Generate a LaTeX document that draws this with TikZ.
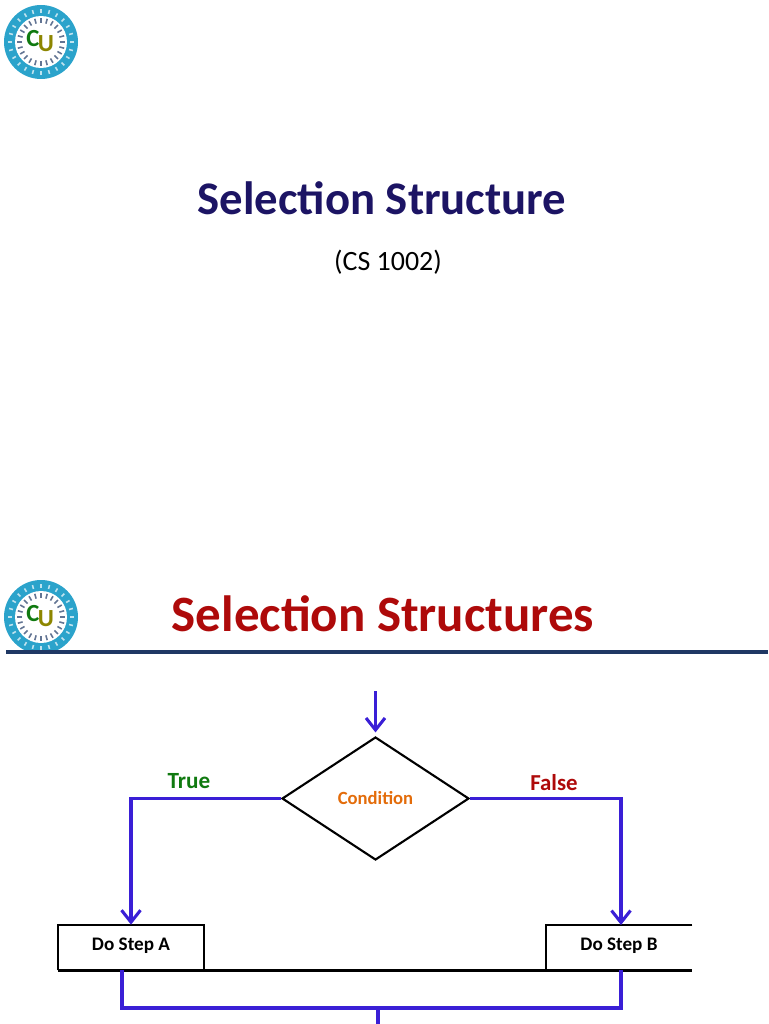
\documentclass[tikz,border=0pt]{standalone}
\usepackage{fontspec}
\setmainfont{Carlito}
\usepackage{xcolor}
\usetikzlibrary{shapes.geometric, arrows.meta, positioning}
\definecolor{CS_Navy}{HTML}{1C1464}
\definecolor{CS_Red}{HTML}{AE0A0A}
\definecolor{CS_Rule}{HTML}{1F3864}
\definecolor{CS_Blue}{HTML}{3A1FD6}
\definecolor{CS_Green}{HTML}{107A10}
\definecolor{CS_Orange}{HTML}{E36C0A}
\definecolor{CS_Seal}{HTML}{2BA3CB}
\tikzset{
    flowline/.style={CS_Blue, line width=1.75pt},
    flowarrow/.style={flowline, -{Straight Barb[length=2.4mm, width=3.8mm, line width=1.75pt]}},
    stepbox/.style={minimum width=2.92cm, minimum height=0.9cm, inner sep=0pt, text depth=4pt, font=\fontsize{10.9}{12}\selectfont\bfseries},
    decision/.style={diamond, draw, line width=1.2pt, aspect=1.52, minimum width=3.74cm, minimum height=2.46cm, inner sep=0pt, text=CS_Orange, font=\fontsize{10.6}{12}\selectfont\bfseries},
    seal/.pic={
        \fill[CS_Seal] (0,0) circle (37);
        \fill[white] (0,0) circle (26);
        \foreach \ang in {0,15,...,345} {
            \draw[white!70!CS_Seal, line width=0.9pt] (\ang:29) -- (\ang:33);
            \draw[CS_Rule!70, line width=0.9pt] (\ang:19) -- (\ang:24);
        }
        \node[text=CS_Green, font=\fontsize{14}{14}\selectfont\bfseries] at (-8,-3) {C};
        \node[text=olive, font=\fontsize{14}{14}\selectfont\bfseries] at (5,2) {U};
    }
}

\begin{document}
\begin{tikzpicture}[x=0.02cm, y=-0.02cm]
    \useasboundingbox (0,0) rectangle (768,1024);

    % First slide
    \pic at (41,42) {seal};
    \node[text=CS_Navy, font=\fontsize{26.6}{30}\selectfont\bfseries] (title) at (382,198) {Selection Structure};
    \node[font=\fontsize{15.9}{18}\selectfont] (course) at (388,262) {(CS 1002)};

    % Second slide
    \pic at (41,617) {seal};
    \node[text=CS_Red, font=\fontsize{29}{34}\selectfont\bfseries] (heading) at (383,614) {Selection Structures};
    \draw[CS_Rule, line width=2.3pt] (6,652) -- (768,652);

    % Flow chart
    \node[decision] (cond) at (375.5,798.5) {Condition};
    \node[stepbox] (stepa) at (131,947.5) {Do Step A};
    \node[stepbox] (stepb) at (619,947.5) {Do Step B};
    \node[text=CS_Green, font=\fontsize{13.2}{15}\selectfont\bfseries] (truelabel) at (189,781) {True};
    \node[text=CS_Red, font=\fontsize{13}{15}\selectfont\bfseries] (falselabel) at (554,783) {False};

    % Step boxes (B has no right side)
    \draw[line width=1.2pt] (stepa.south west) -- (stepa.north west) -- (stepa.north east) -- (stepa.south east);
    \draw[line width=1.2pt] (stepb.north east) -- (stepb.north west) -- (stepb.south west);
    \draw[line width=2pt] (stepa.south west) -- (stepb.south east);

    % Connectors
    \coordinate (entry) at (375.5,691);
    \coordinate (intob) at (621,925);
    \coordinate (outa) at (122,970);
    \coordinate (outb) at (621,970);
    \coordinate (join) at (378,1008);
    \coordinate (exit) at (378,1024);
    \draw[flowarrow, shorten >=2pt] (entry) -- (cond.north);
    \draw[flowarrow] (cond.west) -| (stepa.north);
    \draw[flowarrow] (cond.east) -| (intob);
    \draw[flowline] (outa) |- (join) -| (outb);
    \draw[flowline] (join) -- (exit);
\end{tikzpicture}
\end{document}
